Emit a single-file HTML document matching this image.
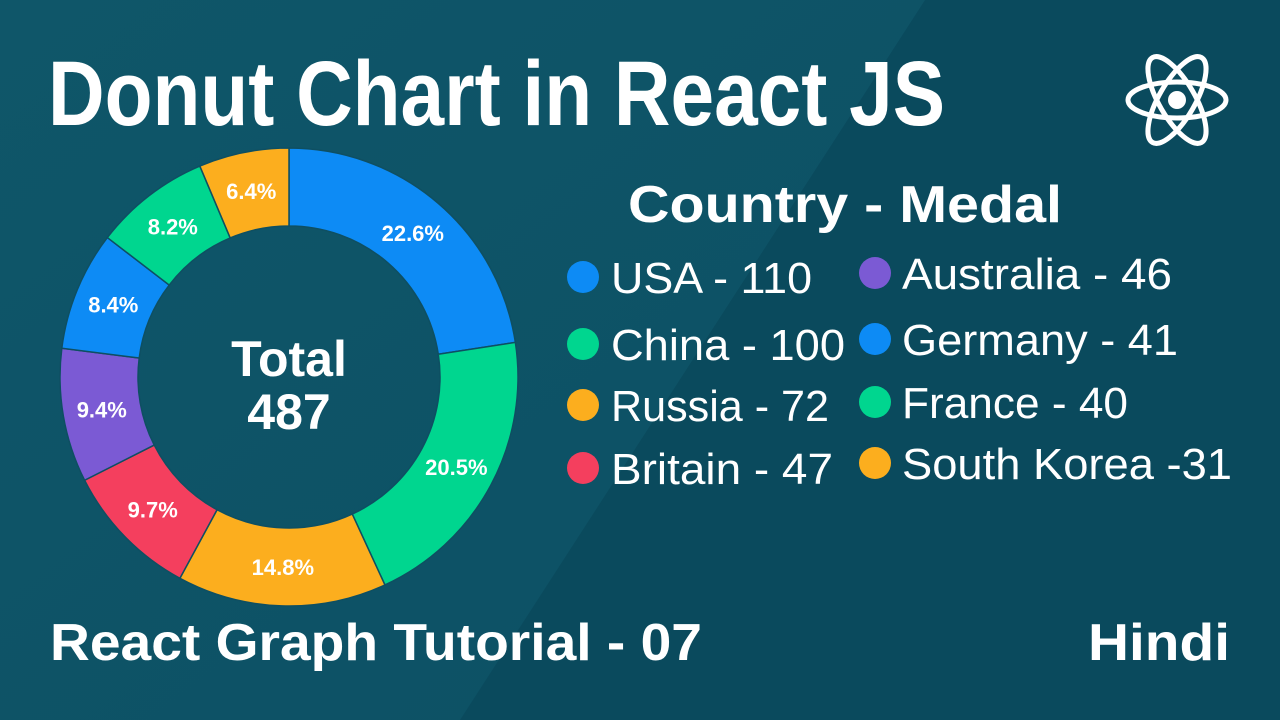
<!DOCTYPE html>
<html><head><meta charset="utf-8"><style>
html,body{margin:0;padding:0;width:1280px;height:720px;overflow:hidden;background:#0b4b5e}
svg{display:block}
text{font-family:"Liberation Sans",sans-serif;fill:#fff}
</style></head><body>
<svg id="c" width="1280" height="720" viewBox="0 0 1280 720">
<defs><linearGradient id="bgl" x1="0" y1="0" x2="1" y2="1"><stop offset="0" stop-color="#0f5669"/><stop offset="1" stop-color="#0c5064"/></linearGradient></defs>
<rect width="1280" height="720" fill="#0a4a5d"/>
<polygon points="0,0 925,0 460,720 0,720" fill="url(#bgl)"/>
<text x="48" y="125" font-size="92" font-weight="bold" textLength="897" lengthAdjust="spacingAndGlyphs">Donut Chart in React JS</text>
<g fill="none" stroke="#fff" stroke-width="5">
<ellipse cx="1177" cy="100" rx="49" ry="18"/>
<ellipse cx="1177" cy="100" rx="49" ry="18" transform="rotate(60 1177 100)"/>
<ellipse cx="1177" cy="100" rx="49" ry="18" transform="rotate(-60 1177 100)"/>
<circle cx="1177" cy="100" r="9" fill="#fff" stroke="none"/>
</g>
<text x="628" y="222" font-size="52" font-weight="bold" textLength="434" lengthAdjust="spacingAndGlyphs">Country - Medal</text>
<g id="donut"></g>
<g id="legend"></g>
<text x="289" y="376" font-size="50" font-weight="bold" text-anchor="middle">Total</text>
<text x="289" y="429" font-size="50" font-weight="bold" text-anchor="middle">487</text>
<text x="50" y="660" font-size="52" font-weight="bold" textLength="652" lengthAdjust="spacingAndGlyphs">React Graph Tutorial - 07</text>
<text x="1088" y="660" font-size="52" font-weight="bold" textLength="142" lengthAdjust="spacingAndGlyphs">Hindi</text>
</svg>
<script>
const countries=["USA","China","Russia","Britain","Australia","Germany","France","South Korea"];
const medals=[110,100,72,47,46,41,40,31];
const colors=["#0d8bf5","#00d68f","#fcae1e","#f43f5e","#7b5ad4","#0d8bf5","#00d68f","#fcae1e"];
const legendText=["USA - 110","China - 100","Russia - 72","Britain - 47","Australia - 46","Germany - 41","France - 40","South Korea -31"];
const NS="http://www.w3.org/2000/svg";
const cx=289,cy=377,R=229,r=151;
const total=medals.reduce((a,b)=>a+b,0);
const g=document.getElementById('donut');
function pt(a,rad){return [cx+rad*Math.sin(a),cy-rad*Math.cos(a)];}
let acc=0;
medals.forEach((v,i)=>{
  const a0=acc/total*2*Math.PI;acc+=v;const a1=acc/total*2*Math.PI;
  const large=(a1-a0)>Math.PI?1:0;
  const [x0,y0]=pt(a0,R),[x1,y1]=pt(a1,R),[x2,y2]=pt(a1,r),[x3,y3]=pt(a0,r);
  const p=document.createElementNS(NS,'path');
  p.setAttribute('d',`M${x0},${y0}A${R},${R} 0 ${large} 1 ${x1},${y1}L${x2},${y2}A${r},${r} 0 ${large} 0 ${x3},${y3}Z`);
  p.setAttribute('fill',colors[i]);p.setAttribute('stroke','#0e4f62');p.setAttribute('stroke-width','1.5');
  
  
  g.appendChild(p);
  const [lx,ly]=pt((a0+a1)/2,(R+r)/2);
  const t=document.createElementNS(NS,'text');
  t.setAttribute('x',lx);t.setAttribute('y',ly+8);t.setAttribute('text-anchor','middle');
  t.setAttribute('font-size','22');t.setAttribute('font-weight','bold');
  t.textContent=(v/total*100).toFixed(1)+'%';
  
  
  g.appendChild(t);
});
const lg=document.getElementById('legend');
const rowsY=[[293,360,421,484],[289,355,418,479]];
const widths=[201,234,218,222,270,276,226,330];
const colX=[[583,611],[875,902]];
legendText.forEach((s,i)=>{
  const c=i<4?0:1,row=i%4,y=rowsY[c][row];
  const d=document.createElementNS(NS,'circle');
  d.setAttribute('cx',colX[c][0]);d.setAttribute('cy',y-16);d.setAttribute('r','16');d.setAttribute('fill',colors[i]);
  
  
  lg.appendChild(d);
  const t=document.createElementNS(NS,'text');
  t.setAttribute('x',colX[c][1]);t.setAttribute('y',y);t.setAttribute('font-size','44');
  t.setAttribute('textLength',widths[i]);t.setAttribute('lengthAdjust','spacingAndGlyphs');
  t.textContent=s;
  
  
  lg.appendChild(t);
});
</script>
</body></html>
